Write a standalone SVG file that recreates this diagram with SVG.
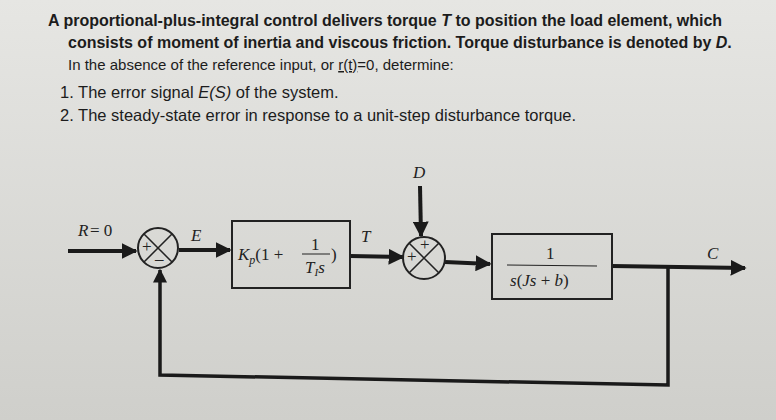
<svg xmlns="http://www.w3.org/2000/svg" width="776" height="420" viewBox="0 0 776 420">
<defs>
<marker id="ah" viewBox="0 0 10 10" refX="9" refY="5" markerWidth="4" markerHeight="4" orient="auto"><path d="M0,0 L10,5 L0,10 z" fill="#1a1a1a"/></marker>
<linearGradient id="bg" x1="0" y1="0" x2="0" y2="1"><stop offset="0" stop-color="#e6e6e3"/><stop offset="1" stop-color="#cfcfcb"/></linearGradient>
</defs>
<style>
.t{font-family:"Liberation Sans",Arial,sans-serif;font-size:15px;fill:#1c1c1c}
.b{font-weight:bold;font-size:16px}
.i{font-size:16.5px}
.m{font-family:"Liberation Serif","Times New Roman",serif;font-style:italic;font-size:17px;fill:#222}
.n{font-family:"Liberation Serif","Times New Roman",serif;font-size:17px;fill:#222}
.box{fill:none;stroke:#222;stroke-width:2}
.ln{fill:none;stroke:#1a1a1a;stroke-width:4}
.fb{fill:none;stroke:#1a1a1a;stroke-width:3.5}
</style>
<rect width="776" height="420" fill="url(#bg)"/>
<text class="t b" x="48" y="26">A proportional-plus-integral control delivers torque <tspan font-style="italic">T</tspan> to position the load element, which</text>
<text class="t b" x="68" y="48">consists of moment of inertia and viscous friction. Torque disturbance is denoted by <tspan font-style="italic">D</tspan>.</text>
<text class="t" x="68" y="70">In the absence of the reference input, or <tspan text-decoration="underline">r(t)</tspan>=0, determine:</text>
<text class="t i" x="60" y="98">1.  The error signal <tspan font-style="italic">E(S)</tspan> of the system.</text>
<text class="t i" x="60" y="121">2.  The steady-state error in response to a unit-step disturbance torque.</text>
<g id="connectors">
<line class="ln" x1="68" y1="251" x2="136" y2="251" marker-end="url(#ah)"/>
<line class="ln" x1="179" y1="250" x2="230" y2="250" marker-end="url(#ah)"/>
<line class="ln" x1="350" y1="256" x2="403" y2="257" marker-end="url(#ah)"/>
<line class="ln" x1="445" y1="262" x2="490" y2="264" marker-end="url(#ah)"/>
<line class="ln" x1="420" y1="186" x2="421" y2="236" marker-end="url(#ah)"/>
<line class="ln" x1="612" y1="266" x2="745" y2="268" marker-end="url(#ah)"/>
<path class="fb" d="M668,267 L668,385 L160,375 L160,270" marker-end="url(#ah)"/>
</g>
<g id="labels">
<text class="m" x="78" y="236" font-size="15">R</text><text class="n" x="90" y="236" font-size="15">= 0</text>
<text class="m" x="191" y="241">E</text>
<text class="m" x="361" y="242">T</text>
<text class="m" x="413" y="178">D</text>
<text class="m" x="707" y="259">C</text>
</g>
<g id="sum1">
<circle cx="158" cy="248" r="20" fill="none" stroke="#222" stroke-width="2"/>
<path d="M144,234 L172,262 M172,234 L144,262" stroke="#222" stroke-width="1.5"/>
<text class="n" x="142" y="252" font-size="11">+</text>
<text class="n" x="155" y="264" font-size="11">–</text>
</g>
<g id="pi">
<rect class="box" x="232" y="221" width="118" height="67"/>
<text class="m" x="238" y="260">K<tspan font-size="12" dy="4">p</tspan><tspan font-style="normal" dy="-4">(1 +</tspan></text>
<line x1="302" y1="254" x2="330" y2="254" stroke="#222" stroke-width="1"/>
<text class="n" x="311" y="250">1</text>
<text class="m" x="305" y="273">T<tspan font-size="11" dy="3">I</tspan><tspan dy="-3">s</tspan></text>
<text class="n" x="331" y="260">)</text>
</g>
<g id="sum2">
<circle cx="424" cy="258" r="21" fill="none" stroke="#222" stroke-width="2"/>
<path d="M409,243 L439,273 M439,243 L409,273" stroke="#222" stroke-width="1.5"/>
<text class="n" x="420" y="250" font-size="11">+</text>
<text class="n" x="407" y="262" font-size="11">+</text>
</g>
<g id="plant">
<rect class="box" x="492" y="234" width="120" height="65"/>
<text class="n" x="546" y="259">1</text>
<line x1="507" y1="265" x2="597" y2="266" stroke="#222" stroke-width="1"/>
<text class="m" x="510" y="286">s<tspan font-style="normal">(</tspan>Js<tspan font-style="normal"> + </tspan>b<tspan font-style="normal">)</tspan></text>
</g>
</svg>
